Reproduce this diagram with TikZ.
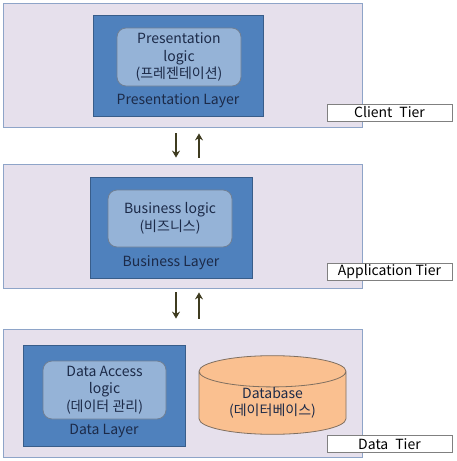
\documentclass[tikz,border=0pt]{standalone}
\usepackage{fontspec}
\setmainfont{Noto Sans CJK KR}
\usetikzlibrary{shapes.geometric,arrows.meta}
\definecolor{tierfill}{HTML}{E6E0EC}
\definecolor{tierdraw}{HTML}{8EA4C8}
\definecolor{layerfill}{HTML}{4F81BD}
\definecolor{layerdraw}{HTML}{385D8A}
\definecolor{logicfill}{HTML}{95B3D7}
\definecolor{logicdraw}{HTML}{6F7F94}
\definecolor{dbfill}{HTML}{FAC090}
\definecolor{dbdraw}{HTML}{7F6F60}
\definecolor{textc}{HTML}{1C2A48}
\definecolor{arrc}{HTML}{3F3C20}
\tikzset{
    tier/.style={draw=tierdraw, fill=tierfill, line width=0.8pt, minimum width=359pt},
    layer/.style={draw=layerdraw, fill=layerfill, line width=1pt},
    logic/.style={draw=logicdraw, fill=logicfill, line width=0.8pt, rounded corners=9pt,
        text=textc, align=center, font=\fontsize{14}{17.5}\selectfont},
    layername/.style={text=textc, font=\fontsize{14}{17.5}\selectfont},
    tierlabel/.style={draw=gray, fill=white, line width=0.6pt, minimum width=125pt,
        minimum height=17pt, inner sep=0pt, font=\fontsize{14}{17.5}\selectfont},
    arr/.style={draw=arrc, line width=1.8pt, -{Stealth[length=7pt,width=8pt]}}
}
\begin{document}
\begin{tikzpicture}[x=1pt, y=-1pt, every node/.style={inner sep=0pt}]
    \useasboundingbox (0,0) rectangle (456,461);
    % client tier
    \node[tier, minimum height=124pt] (clienttier) at (182.5,65) {};
    \node[layer, minimum width=170pt, minimum height=101pt] (preslayer) at (178,65.5) {};
    \node[logic, minimum width=124pt, minimum height=58pt] (preslogic) at (179,57)
        {Presentation\\logic\\(프레젠테이션)};
    \node[layername] (presname) at (178,101) {Presentation Layer};
    \node[tierlabel] (clientlabel) at (389.5,112.5) {Client\enspace Tier};
    % application tier
    \node[tier, minimum height=124pt] (apptier) at (182.5,226) {};
    \node[layer, minimum width=162pt, minimum height=101pt] (buslayer) at (171,227.5) {};
    \node[logic, minimum width=124pt, minimum height=57pt] (buslogic) at (170,218.5)
        {Business logic\\(비즈니스)};
    \node[layername] (busname) at (171,263) {Business Layer};
    \node[tierlabel] (applabel) at (389.5,272) {Application Tier};
    % data tier
    \node[tier, minimum height=128pt] (datatier) at (182.5,393) {};
    \node[layer, minimum width=162pt, minimum height=101pt] (datalayer) at (104,395.5) {};
    \node[logic, minimum width=123pt, minimum height=58pt] (datalogic) at (104.5,390)
        {Data Access\\logic\\(데이터 관리)};
    \node[layername] (dataname) at (104,431) {Data Layer};
    \node[cylinder, shape border rotate=90, aspect=0.36, draw=dbdraw, fill=dbfill,
        line width=0.8pt, minimum width=147pt, minimum height=70pt, text=textc,
        align=center, font=\fontsize{14}{17.5}\selectfont] (db) at (272.5,403)
        {Database\\(데이터베이스)};
    \node[tierlabel] (datalabel) at (389.5,444) {Data\enspace Tier};
    % arrows
    \draw[arr, shorten <=6pt, shorten >=6pt] ([xshift=-6.5pt]clienttier.south) -- ([xshift=-6.5pt]apptier.north);
    \draw[arr, shorten <=6pt, shorten >=6pt] ([xshift=16.5pt]apptier.north) -- ([xshift=16.5pt]clienttier.south);
    \draw[arr, shorten <=4pt, shorten >=10pt] ([xshift=-6.5pt]apptier.south) -- ([xshift=-6.5pt]datatier.north);
    \draw[arr, shorten <=10pt, shorten >=4pt] ([xshift=16.5pt]datatier.north) -- ([xshift=16.5pt]apptier.south);
\end{tikzpicture}
\end{document}
